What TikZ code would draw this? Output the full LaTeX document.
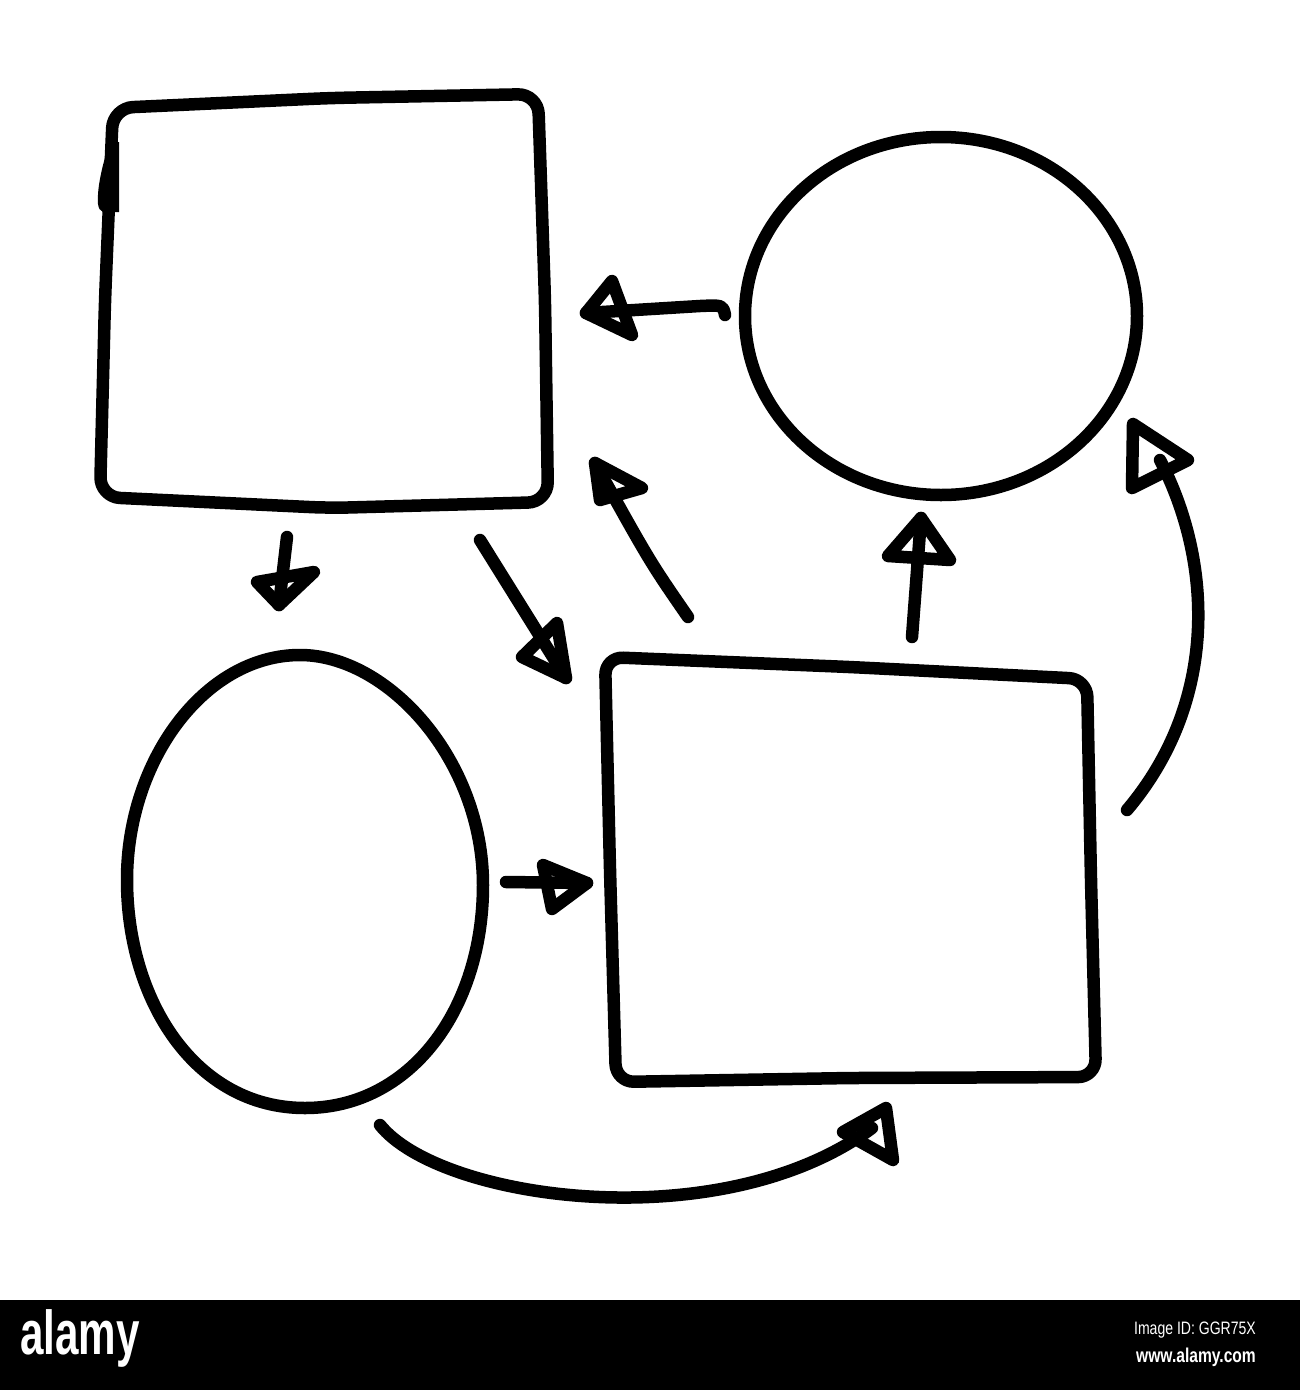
\documentclass[tikz,border=0pt]{standalone}
\usepackage{fontspec}
\setmainfont{Liberation Sans}
\begin{document}
\begin{tikzpicture}[x=1pt,y=-1pt,
  ink/.style={line width=12.5pt,line cap=round,line join=round,draw=black},
  tip/.style={ink},
  wm/.style={text=white,inner sep=0pt}]
\useasboundingbox (0,0) rectangle (1300,1390);
\fill[white] (0,0) rectangle (1300,1300);
\fill[black] (0,1300) rectangle (1300,1390);

% top-left box
\draw[ink,rounded corners=20pt] (113,108) -- (330,98) -- (538,94) -- (545,300) -- (548,502) -- (330,508) -- (100,497) -- (105,300) -- cycle;
\fill (110,142) .. controls (101,168) and (97,190) .. (98,204) .. controls (99,213) and (106,214) .. (112,212) -- (119,212) -- (119,142) -- cycle;

% bottom-right box
\draw[ink,rounded corners=18pt] (605,657) -- (850,667) -- (1087,679) -- (1091,880) -- (1096,1077) -- (850,1078) -- (616,1082) -- (610,870) -- cycle;

% top-right circle
\draw[ink] (941,316) ellipse [x radius=196, y radius=179];

% bottom-left egg
\draw[ink] (300,655) .. controls (388,655) and (483,760) .. (483,885)
  .. controls (483,1010) and (410,1108) .. (305,1108)
  .. controls (195,1108) and (127,1000) .. (127,880)
  .. controls (127,760) and (205,655) .. cycle;

% arrow endpoints
\coordinate (a1s) at (725,315); \coordinate (a1t) at (586,313);
\coordinate (a2s) at (287,537); \coordinate (a2t) at (279,605);
\coordinate (a3s) at (480,540); \coordinate (a3t) at (566,678);
\coordinate (a4s) at (688,617); \coordinate (a4t) at (595,463);
\coordinate (a5s) at (912,637); \coordinate (a5t) at (921,518);
\coordinate (a6s) at (1127,810); \coordinate (a6t) at (1133,424);
\coordinate (a7s) at (506,882); \coordinate (a7t) at (587,883);
\coordinate (a8s) at (380,1125); \coordinate (a8t) at (886,1108);

% arrow 1: circle -> top-left box
\draw[ink] (a1s) .. controls (723,305) .. (700,306) -- (a1t);
\draw[tip] (a1t) -- (612,281) -- (632,335) -- cycle;
% arrow 2: top-left box -> egg
\draw[ink] (a2s) -- (a2t);
\draw[tip] (257,582) -- (314,572) -- (a2t) -- cycle;
% arrow 3: top-left box -> bottom-right box
\draw[ink] (a3s) -- (a3t);
\draw[tip] (522,657) -- (557,623) -- (a3t) -- cycle;
% arrow 4: bottom-right box -> top-left box
\draw[ink] (a4s) .. controls (650,562) .. (a4t);
\draw[tip] (a4t) -- (600,500) -- (642,488) -- cycle;
% arrow 5: bottom-right box -> circle
\draw[ink] (a5s) -- (a5t);
\draw[tip] (a5t) -- (888,556) -- (950,560) -- cycle;
% arrow 6: bottom-right box -> circle (curved)
\draw[ink] (a6s) .. controls (1220,700) and (1212,560) .. (1160,460);
\draw[tip] (a6t) -- (1132,488) -- (1188,460) -- cycle;
% arrow 7: egg -> bottom-right box
\draw[ink] (a7s) -- (a7t);
\draw[tip] (543,865) -- (a7t) -- (552,909) -- cycle;
% arrow 8: egg -> bottom-right box (curved)
\draw[ink] (a8s) .. controls (440,1200) and (720,1240) .. (872,1128);
\draw[tip] (a8t) -- (843,1132) -- (893,1160) -- cycle;

% watermark bar
\node[wm,font=\bfseries\fontsize{62}{62}\selectfont,xscale=0.68,anchor=west] (logo) at (20,1338) {alamy};
\node[wm,font=\fontsize{18}{18}\selectfont,xscale=0.78,anchor=east] (imgid) at (1256,1330) {Image ID: GGR75X};
\node[wm,font=\bfseries\fontsize{20}{20}\selectfont,xscale=0.78,anchor=east] (www) at (1256,1357) {www.alamy.com};
\end{tikzpicture}
\end{document}
